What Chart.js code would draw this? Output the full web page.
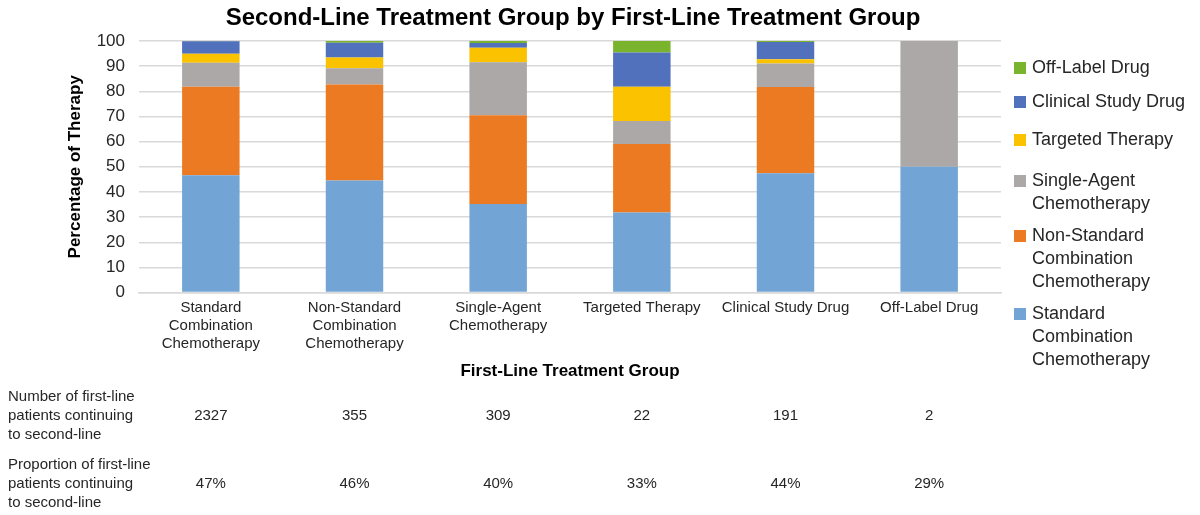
<!DOCTYPE html>
<html>
<head>
<meta charset="utf-8">
<script src="https://cdn.jsdelivr.net/npm/chart.js@4/dist/chart.umd.min.js"></script>
<style>
  html, body { margin: 0; padding: 0; background: #fff; }
  #wrap { width: 1200px; height: 515px; }
</style>
</head>
<body>
<div id="wrap"><canvas id="myChart" width="1200" height="515"></canvas></div>
<script>
const categories = [
  ["Standard", "Combination", "Chemotherapy"],
  ["Non-Standard", "Combination", "Chemotherapy"],
  ["Single-Agent", "Chemotherapy"],
  "Targeted Therapy",
  "Clinical Study Drug",
  "Off-Label Drug"
];

// second-line share (%) per first-line group
const standardCombo = [46.6, 44.6, 35.2, 31.8, 47.4, 50];
const nonStandardCombo = [35.2, 38.1, 35.3, 27.3, 34.3, 0];
const singleAgent = [9.6, 6.5, 21.1, 9.1, 9.4, 50];
const targeted = [3.5, 4.2, 5.7, 13.6, 1.6, 0];
const clinicalStudy = [5.0, 5.9, 1.9, 13.6, 6.9, 0];
const offLabel = [0.1, 0.7, 0.8, 4.6, 0.4, 0];

const patientCounts = ["2327", "355", "309", "22", "191", "2"];
const proportions = ["47%", "46%", "40%", "33%", "44%", "29%"];

const seriesNames = [
  ["Standard", "Combination", "Chemotherapy"],
  ["Non-Standard", "Combination", "Chemotherapy"],
  ["Single-Agent", "Chemotherapy"],
  ["Targeted Therapy"],
  ["Clinical Study Drug"],
  ["Off-Label Drug"]
];
const colors = ["#72a5d5", "#ec7a22", "#aba8a7", "#fbc200", "#5171bc", "#7ab42c"];
const seriesData = [standardCombo, nonStandardCombo, singleAgent, targeted, clinicalStudy, offLabel];

const FONT = "'Liberation Sans', Arial, sans-serif";
const TITLE = "Second-Line Treatment Group by First-Line Treatment Group";
Chart.defaults.font.family = FONT;
Chart.defaults.color = "#262626";

// legend rows, top to bottom (last series first)
const legendTops = [68, 102, 140, 181, 236, 314];

// title, legend and the table under the axis
const extrasPlugin = {
  id: "extras",
  afterDraw(chart) {
    const ctx = chart.ctx;
    const x = chart.scales.x;
    ctx.save();
    ctx.textBaseline = "middle";

    ctx.font = "bold 24px " + FONT;
    ctx.fillStyle = "#000";
    ctx.textAlign = "center";
    ctx.fillText(TITLE, 573, 18);

    ctx.font = "18px " + FONT;
    ctx.textAlign = "left";
    for (let n = 0; n < seriesNames.length; n++) {
      const i = seriesNames.length - 1 - n;
      const y = legendTops[n];
      ctx.fillStyle = colors[i];
      ctx.fillRect(1014, y - 6, 12, 12);
      ctx.fillStyle = "#262626";
      seriesNames[i].forEach((t, k) => ctx.fillText(t, 1032, y + k * 23));
    }

    ctx.font = "15px " + FONT;
    const rows = [
      { label: ["Number of first-line", "patients continuing", "to second-line"], vals: patientCounts, top: 397 },
      { label: ["Proportion of first-line", "patients continuing", "to second-line"], vals: proportions, top: 465 }
    ];
    rows.forEach(r => {
      ctx.textAlign = "left";
      r.label.forEach((t, k) => ctx.fillText(t, 8, r.top + k * 19));
      ctx.textAlign = "center";
      r.vals.forEach((v, i) => ctx.fillText(v, x.getPixelForValue(i), r.top + 19));
    });
    ctx.restore();
  }
};

new Chart(document.getElementById("myChart"), {
  type: "bar",
  data: {
    labels: categories,
    datasets: seriesData.map((d, i) => ({
      label: seriesNames[i].join(" "),
      data: d,
      backgroundColor: colors[i],
      barPercentage: 0.4,
      categoryPercentage: 1.0
    }))
  },
  options: {
    responsive: false,
    animation: false,
    layout: { padding: { left: 65, right: 199, top: 41, bottom: 129 } },
    plugins: {
      legend: { display: false },
      tooltip: { enabled: false },
      title: { display: false }
    },
    scales: {
      x: {
        stacked: true,
        grid: { display: false, drawTicks: false },
        border: { color: "#d9d9d9", width: 1.5 },
        ticks: { font: { size: 15 }, color: "#262626", maxRotation: 0, autoSkip: false, padding: 6 },
        title: {
          display: true,
          text: "First-Line Treatment Group",
          color: "#000",
          font: { size: 17, weight: "bold" },
          padding: { top: 3 }
        }
      },
      y: {
        stacked: true,
        min: 0,
        max: 100,
        afterFit(scale) { scale.width = 74; },
        ticks: { stepSize: 10, autoSkip: false, font: { size: 17 }, color: "#262626", padding: 14 },
        grid: { color: "#d9d9d9", lineWidth: 1.5, drawTicks: false },
        border: { display: false },
        title: {
          display: true,
          text: "Percentage of Therapy",
          color: "#000",
          font: { size: 17, weight: "bold" },
          padding: { top: 0, bottom: 0 }
        }
      }
    }
  },
  plugins: [extrasPlugin]
});
</script>
</body>
</html>
